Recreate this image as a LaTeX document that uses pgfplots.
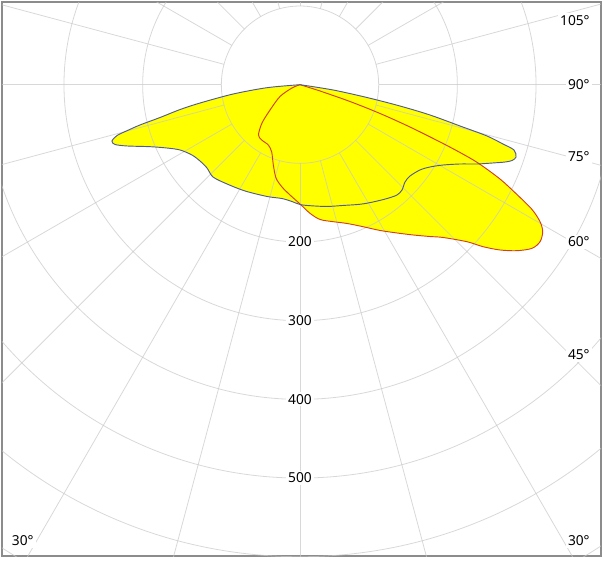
\documentclass[border=0pt]{standalone}
\usepackage{pgfplots}
\usepackage{pgfplotstable}
\pgfplotsset{compat=1.18}
\usepackage{fontspec}
\setmainfont{Noto Sans}

\definecolor{gridc}{HTML}{C8C8C8}
\definecolor{framec}{HTML}{8C8C8C}
\definecolor{lumfill}{HTML}{FFFF00}
\definecolor{planeA}{HTML}{505A96}
\definecolor{planeB}{HTML}{D2401E}

\tikzset{lbl/.style={font=\fontsize{10.3}{12}\selectfont, fill=white, inner sep=1.5pt}}

% intensity curves, cd (x = I sin g, y = -I cos g)
\pgfplotstableread{
x y
0 0
-41.9 -3.8
-85.2 -11.9
-127.1 -23.3
-152.5 -31.6
-177.9 -41.7
-203.4 -51.2
-219.9 -58.5
-232.6 -64.6
-239.0 -71.6
-235.2 -76.0
-219.9 -77.9
-190.7 -78.8
-169.1 -80.5
-152.5 -83.0
-137.3 -89.4
-127.1 -97.0
-118.2 -105.9
-110.6 -117.3
-92.8 -126.2
-69.9 -135.1
-41.9 -142.1
-22.9 -144.7
-10.2 -148.5
0 -152.3
12.7 -153.8
34.3 -154.8
54.7 -153.5
76.3 -152.0
92.8 -149.1
110.6 -144.7
123.3 -140.2
129.7 -133.8
133.5 -123.7
139.8 -116.1
152.5 -108.4
165.2 -104.6
181.8 -102.1
203.4 -100.8
225.0 -100.8
245.3 -99.5
260.6 -98.3
269.5 -96.4
274.6 -91.9
272.0 -83.0
258.0 -75.4
237.7 -65.2
203.4 -52.5
165.2 -38.5
127.1 -27.1
85.2 -16.3
41.9 -6.7
0 0
}\planeAtab

\pgfplotstableread{
x y
0 0
-10.2 -4.2
-25.4 -15.0
-38.1 -32.2
-48.3 -48.7
-52.8 -63.9
-48.7 -70.3
-40.3 -76.6
-36.0 -85.5
-33.9 -102.1
-30.5 -118.6
-22.9 -130.0
-12.7 -140.2
0 -151.6
12.7 -163.5
25.4 -171.3
41.9 -174.1
59.7 -176.4
80.1 -180.5
101.7 -185.3
123.3 -188.5
143.6 -191.0
165.2 -193.0
181.8 -194.2
212.3 -199.6
232.6 -205.9
254.2 -210.1
275.8 -211.0
294.9 -208.0
305.1 -199.6
308.5 -186.9
305.1 -174.1
294.9 -158.6
275.8 -139.6
254.2 -119.9
226.3 -99.5
203.4 -86.2
178.0 -72.8
139.8 -53.8
101.7 -36.6
63.6 -21.4
25.4 -8.0
0 0
}\planeBtab

\begin{document}
\begin{tikzpicture}
\begin{axis}[
    width=449.25pt, height=415.5pt,
    scale only axis,
    disabledatascaling,
    xmin=-378.8, xmax=382.6,
    ymin=-599.1, ymax=105.1,
    ticks=none,
    axis line style={draw=framec, line width=1pt},
    clip=true,
]
% yellow areas first
\addplot[fill=lumfill, draw=none, smooth] table[x=x, y=y] {\planeAtab};
\addplot[fill=lumfill, draw=none, smooth] table[x=x, y=y] {\planeBtab};

% polar grid
\pgfplotsinvokeforeach{100,200,300,400,500,600,700}{
    \draw[gridc, line width=0.6pt, opacity=0.7] (axis cs:0,0) circle[radius=#1];
}
\pgfplotsinvokeforeach{0,15,...,345}{
    \draw[gridc, line width=0.6pt, opacity=0.7]
        (axis cs:{100*sin(#1)},{-100*cos(#1)}) -- (axis cs:{1200*sin(#1)},{-1200*cos(#1)});
}

% outlines
\addplot[draw=planeB, line width=0.7pt, smooth] table[x=x, y=y] {\planeBtab};
\addplot[draw=planeA, line width=0.7pt, smooth] table[x=x, y=y] {\planeAtab};

% radial values
\node[lbl] at (axis cs:0,-200) {200};
\node[lbl] at (axis cs:0,-300) {300};
\node[lbl] at (axis cs:0,-400) {400};
\node[lbl] at (axis cs:0,-500) {500};

% angles
\node[lbl, anchor=east] at (axis cs:371,81.6) {105°};
\node[lbl, anchor=east] at (axis cs:371,0) {90°};
\node[lbl, anchor=east] at (axis cs:371,-92) {75°};
\node[lbl, anchor=east] at (axis cs:371,-200) {60°};
\node[lbl, anchor=east] at (axis cs:371,-343) {45°};
\node[lbl, anchor=east] at (axis cs:371,-580) {30°};
\node[lbl, anchor=west] at (axis cs:-369,-580) {30°};
\end{axis}
\path (current axis.south west) ++(-1.5pt,-3.75pt) (current axis.north east) ++(2.25pt,1.5pt);
\end{tikzpicture}
\end{document}
